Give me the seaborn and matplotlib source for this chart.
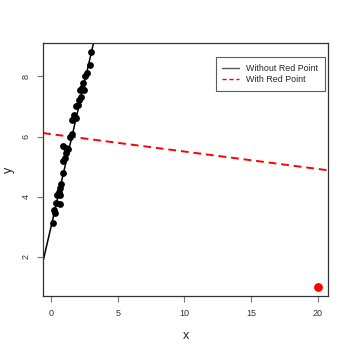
import matplotlib
matplotlib.use("Agg")
import matplotlib.pyplot as plt
import seaborn as sns
import pandas as pd
from matplotlib.lines import Line2D

# Black points
x_black = [2.98, 2.93, 2.73, 2.55, 2.43, 2.30, 2.20, 2.45, 2.23, 2.13, 1.88, 1.80,
           1.90, 1.70, 1.55, 1.40, 0.93, 1.10, 1.30, 1.10, 1.05, 0.92, 0.88, 0.75,
           0.65, 0.60, 0.43, 0.70, 0.38, 0.68, 0.23, 0.30, 0.13, 1.75, 2.05, 1.60]
y_black = [8.80, 8.39, 8.13, 8.00, 7.78, 7.61, 7.55, 7.55, 7.33, 7.20, 7.02, 6.65,
           6.60, 6.60, 6.07, 6.00, 5.67, 5.63, 5.60, 5.45, 5.30, 5.20, 4.80, 4.42,
           4.30, 4.17, 4.05, 4.05, 3.78, 3.76, 3.55, 3.45, 3.11, 6.70, 7.05, 6.55]
# Red outlier point
x_red = [20.0]
y_red = [1.0]

# Fitted lines (intercept, slope)
fit_without = (3.0, 1.92)
fit_with = (6.08, -0.058)

sns.set_theme(style="white")
plt.rcParams['font.family'] = ['Liberation Sans', 'DejaVu Sans']

fig = plt.figure(figsize=(3.5, 3.5), dpi=100)
ax = fig.add_axes([0.123, 0.154, 0.814, 0.723])

df_black = pd.DataFrame({"x": x_black, "y": y_black})
df_red = pd.DataFrame({"x": x_red, "y": y_red})

sns.scatterplot(data=df_black, x="x", y="y", color="black", s=24, edgecolor="black",
                linewidth=0, ax=ax, zorder=3)
sns.scatterplot(data=df_red, x="x", y="y", color="red", s=40, edgecolor="red",
                linewidth=0, ax=ax, zorder=3)

ax.axline((0, fit_without[0]), slope=fit_without[1], color="black", lw=1.1, zorder=2)
ax.axline((0, fit_with[0]), slope=fit_with[1], color="red", lw=1.4, ls=(0, (4, 2.5)), zorder=2)

ax.set_xlim(-0.6, 20.75)
ax.set_ylim(0.69, 9.11)
ax.set_xticks([0, 5, 10, 15, 20])
ax.set_yticks([2, 4, 6, 8])
ax.tick_params(axis="both", which="both", direction="out", length=4, width=0.8,
               color="#777777", labelsize=6.5, labelcolor="#333333", pad=5,
               bottom=True, left=True)
for lab in ax.get_yticklabels():
    lab.set_rotation(90)
    lab.set_va("center")
for sp in ax.spines.values():
    sp.set_color("#333333")
    sp.set_linewidth(0.9)

ax.set_xlabel("x", fontsize=9, color="#222222", labelpad=9)
ax.set_ylabel("y", fontsize=9, color="#222222", labelpad=5)

handles = [Line2D([0], [0], color="#555555", lw=1.0),
           Line2D([0], [0], color="red", lw=1.0, ls=(0, (3, 2)))]
leg = ax.legend(handles, ["Without Red Point", "With Red Point"], loc="upper right",
                bbox_to_anchor=(0.99, 0.945), fontsize=6.4, frameon=True, fancybox=False,
                handlelength=1.9, borderpad=0.75, labelspacing=0.25, handletextpad=0.8,
                borderaxespad=0.0)
leg.get_frame().set_edgecolor("#333333")
leg.get_frame().set_linewidth(0.8)

fig.savefig("out.png", dpi=100, facecolor="white")
